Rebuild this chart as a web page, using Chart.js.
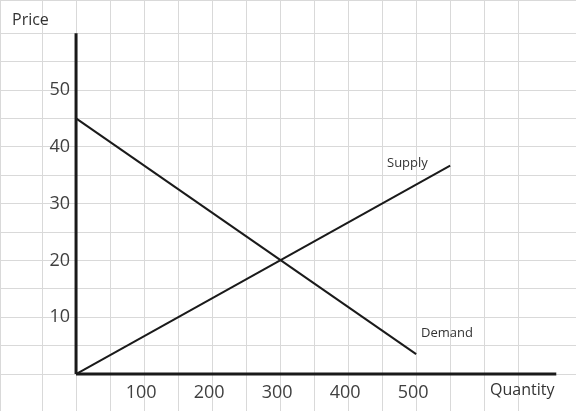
<!DOCTYPE html>
<html><head><meta charset="utf-8">
<script src="https://cdn.jsdelivr.net/npm/chart.js@4"></script>
<style>html,body{margin:0;padding:0;background:#fff}canvas{display:block}</style>
</head><body>
<canvas id="c" width="576" height="411"></canvas>
<script>
const supplyQty = [0, 550];
const supplyPrice = [0, 36.7];
const demandQty = [0, 500];
const demandPrice = [45, 3.5];
const xTickLabels = [100, 200, 300, 400, 500];
const yTickLabels = [10, 20, 30, 40, 50];
const yAxisTop = 60;
const xAxisEnd = 706;

const labelsPlugin = {
  id: 'labels',
  afterDatasetsDraw(chart) {
    const ctx = chart.ctx, xs = chart.scales.x, ys = chart.scales.y;
    ctx.save();
    ctx.fillStyle = '#404040';
    ctx.font = '18px "Open Sans"';
    ctx.textBaseline = 'middle';
    ctx.textAlign = 'right';
    yTickLabels.forEach(v => ctx.fillText(String(v), xs.getPixelForValue(0) - 6, ys.getPixelForValue(v)));
    ctx.textAlign = 'center';
    xTickLabels.forEach(v => ctx.fillText(String(v), xs.getPixelForValue(v) - 3, ys.getPixelForValue(0) + 19));
    ctx.fillStyle = '#333';
    ctx.font = '16px "Open Sans"';
    ctx.textAlign = 'left';
    ctx.fillText('Price', 12, 20);
    ctx.fillText('Quantity', 490, 390);
    ctx.font = '13px "Open Sans"';
    ctx.fillText('Supply', 387, 163);
    ctx.fillText('Demand', 421, 333);
    ctx.restore();
  }
};

new Chart(document.getElementById('c'), {
  type: 'scatter',
  data: {
    datasets: [
      { data: [{x:0,y:0},{x:0,y:yAxisTop}], showLine: true, borderColor: '#1a1a1a', borderWidth: 3, pointRadius: 0 },
      { data: [{x:0,y:0},{x:xAxisEnd,y:0}], showLine: true, borderColor: '#1a1a1a', borderWidth: 3, pointRadius: 0 },
      { data: supplyQty.map((q,i)=>({x:q,y:supplyPrice[i]})), showLine: true, borderColor: '#1a1a1a', borderWidth: 2, pointRadius: 0 },
      { data: demandQty.map((q,i)=>({x:q,y:demandPrice[i]})), showLine: true, borderColor: '#1a1a1a', borderWidth: 2, pointRadius: 0 }
    ]
  },
  options: {
    responsive: false, animation: false,
    layout: { padding: 0 },
    plugins: { legend: { display: false }, tooltip: { enabled: false } },
    scales: {
      x: { type: 'linear', min: -111.8, max: 735, display: true,
           ticks: { display: false, stepSize: 50 }, border: { display: false },
           grid: { color: '#d9d9d9', lineWidth: 1, drawTicks: false } },
      y: { type: 'linear', min: -6.5, max: 65.85, display: true,
           ticks: { display: false, stepSize: 5 }, border: { display: false },
           grid: { color: '#d9d9d9', lineWidth: 1, drawTicks: false } }
    }
  },
  plugins: [labelsPlugin]
});
</script>
</body></html>
